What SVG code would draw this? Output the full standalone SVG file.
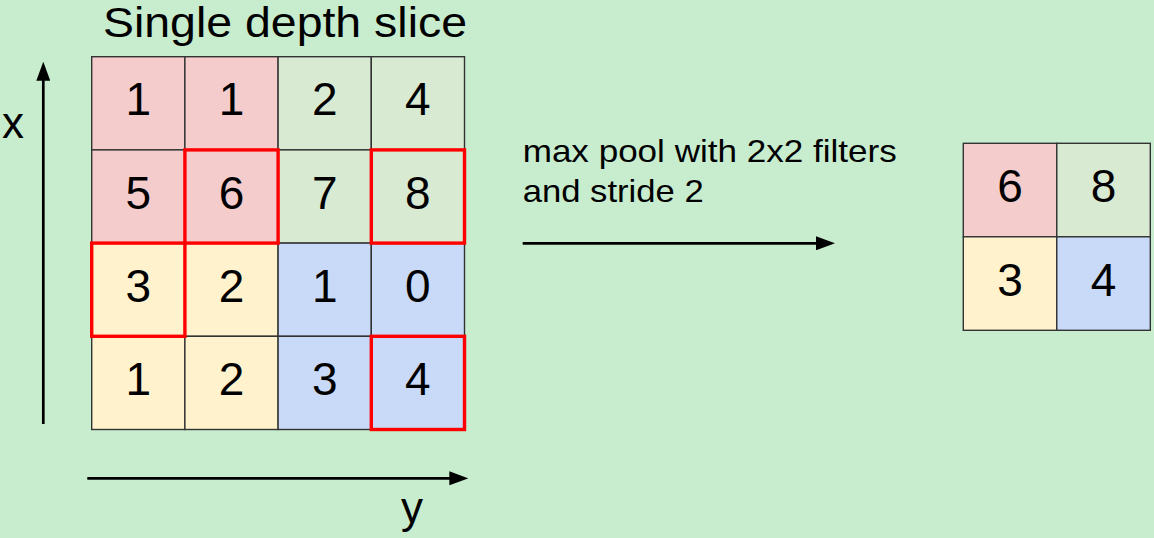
<svg xmlns="http://www.w3.org/2000/svg" width="1154" height="538" viewBox="0 0 1154 538">
<defs>
<style>
.bg{fill:#c7ecce}
.cell{stroke:#333333;stroke-width:1.4}
.pk{fill:#f4cccc}
.gr{fill:#d9ead3}
.ye{fill:#fff2cc}
.bl{fill:#c9daf8}
.num{font-family:"Liberation Sans",Arial,sans-serif;font-size:46px;fill:#000;text-anchor:middle}
.lbl{font-family:"Liberation Sans",Arial,sans-serif;fill:#000}
.hl{fill:none;stroke:#ff0000;stroke-width:3.4}
.arr{stroke:#000;stroke-width:2.7;fill:none;marker-end:url(#ah)}
</style>
<marker id="ah" markerUnits="userSpaceOnUse" markerWidth="19" markerHeight="14" refX="9" refY="7" orient="auto">
<path d="M0,0 L19,7 L0,14 z" fill="#000"/>
</marker>
</defs>
<rect class="bg" x="0" y="0" width="1154" height="538"/>

<g id="title"><text class="lbl" x="103" y="36.7" font-size="42" textLength="364" lengthAdjust="spacingAndGlyphs">Single depth slice</text></g>
<g id="label-x"><text class="lbl" x="2" y="138" font-size="44">x</text></g>
<g id="label-y"><text class="lbl" x="401" y="523" font-size="44">y</text></g>
<g id="label-op">
<text class="lbl" x="522.7" y="161.7" font-size="32" textLength="374" lengthAdjust="spacingAndGlyphs">max pool with 2x2 filters</text>
<text class="lbl" x="522.7" y="201.7" font-size="32" textLength="181" lengthAdjust="spacingAndGlyphs">and stride 2</text>
</g>

<g id="input-grid">
<g id="c00"><rect class="cell pk" x="91.7" y="56.7" width="93.2" height="93.2"/><text class="num" x="138.3" y="115.3">1</text></g>
<g id="c01"><rect class="cell pk" x="184.9" y="56.7" width="93.2" height="93.2"/><text class="num" x="231.5" y="115.3">1</text></g>
<g id="c02"><rect class="cell gr" x="278.1" y="56.7" width="93.2" height="93.2"/><text class="num" x="324.7" y="115.3">2</text></g>
<g id="c03"><rect class="cell gr" x="371.3" y="56.7" width="93.2" height="93.2"/><text class="num" x="417.9" y="115.3">4</text></g>
<g id="c10"><rect class="cell pk" x="91.7" y="149.9" width="93.2" height="93.2"/><text class="num" x="138.3" y="208.5">5</text></g>
<g id="c11"><rect class="cell pk" x="184.9" y="149.9" width="93.2" height="93.2"/><text class="num" x="231.5" y="208.5">6</text></g>
<g id="c12"><rect class="cell gr" x="278.1" y="149.9" width="93.2" height="93.2"/><text class="num" x="324.7" y="208.5">7</text></g>
<g id="c13"><rect class="cell gr" x="371.3" y="149.9" width="93.2" height="93.2"/><text class="num" x="417.9" y="208.5">8</text></g>
<g id="c20"><rect class="cell ye" x="91.7" y="243.1" width="93.2" height="93.2"/><text class="num" x="138.3" y="301.7">3</text></g>
<g id="c21"><rect class="cell ye" x="184.9" y="243.1" width="93.2" height="93.2"/><text class="num" x="231.5" y="301.7">2</text></g>
<g id="c22"><rect class="cell bl" x="278.1" y="243.1" width="93.2" height="93.2"/><text class="num" x="324.7" y="301.7">1</text></g>
<g id="c23"><rect class="cell bl" x="371.3" y="243.1" width="93.2" height="93.2"/><text class="num" x="417.9" y="301.7">0</text></g>
<g id="c30"><rect class="cell ye" x="91.7" y="336.3" width="93.2" height="93.2"/><text class="num" x="138.3" y="394.9">1</text></g>
<g id="c31"><rect class="cell ye" x="184.9" y="336.3" width="93.2" height="93.2"/><text class="num" x="231.5" y="394.9">2</text></g>
<g id="c32"><rect class="cell bl" x="278.1" y="336.3" width="93.2" height="93.2"/><text class="num" x="324.7" y="394.9">3</text></g>
<g id="c33"><rect class="cell bl" x="371.3" y="336.3" width="93.2" height="93.2"/><text class="num" x="417.9" y="394.9">4</text></g>
</g>

<g id="highlights">
<rect class="hl" x="184.9" y="149.9" width="93.2" height="93.2"/>
<rect class="hl" x="371.3" y="149.9" width="93.2" height="93.2"/>
<rect class="hl" x="91.7" y="243.1" width="93.2" height="93.2"/>
<rect class="hl" x="371.3" y="336.3" width="93.2" height="93.2"/>
</g>

<g id="output-grid">
<g id="o00"><rect class="cell pk" x="963.3" y="143.3" width="93.5" height="93.5"/><text class="num" x="1010" y="202">6</text></g>
<g id="o01"><rect class="cell gr" x="1056.8" y="143.3" width="93.5" height="93.5"/><text class="num" x="1103.5" y="202">8</text></g>
<g id="o10"><rect class="cell ye" x="963.3" y="236.8" width="93.5" height="93.5"/><text class="num" x="1010" y="295.5">3</text></g>
<g id="o11"><rect class="cell bl" x="1056.8" y="236.8" width="93.5" height="93.5"/><text class="num" x="1103.5" y="295.5">4</text></g>
</g>

<g id="connectors">
<line class="arr" x1="43.3" y1="424" x2="43.3" y2="71.7"/>
<line class="arr" x1="87.3" y1="478.3" x2="458.3" y2="478.3"/>
<line class="arr" x1="522.7" y1="243.3" x2="825" y2="243.3"/>
</g>
</svg>
